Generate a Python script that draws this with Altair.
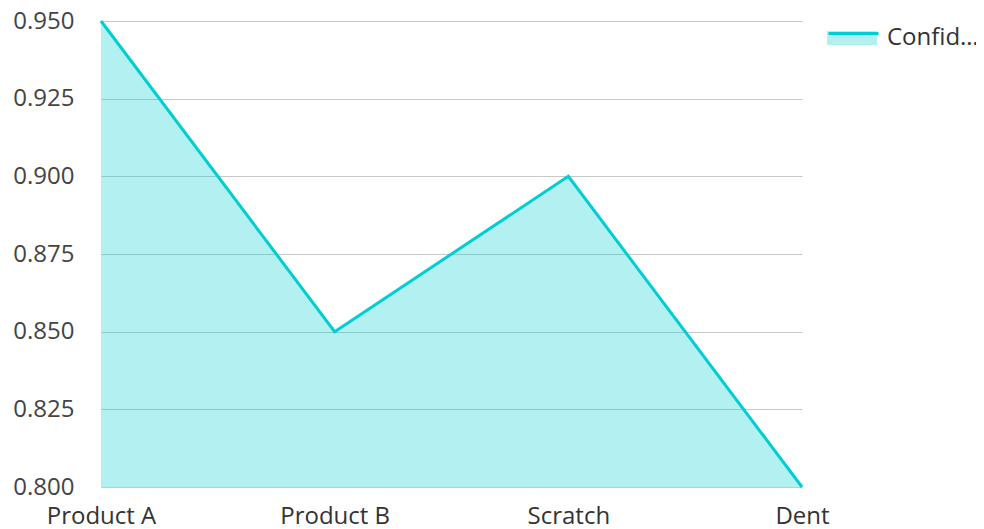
import altair as alt
import pandas as pd

categories = ["Product A", "Product B", "Scratch", "Dent"]
values = [0.95, 0.85, 0.90, 0.80]
series = ["Confidence"] * 4
y_ticks = [0.800, 0.825, 0.850, 0.875, 0.900, 0.925, 0.950]

df = pd.DataFrame({"category": categories, "value": values, "series": series})

LINE = "#00CED1"
FONT = "Open Sans"
FS = 24

x = alt.X("category:N", sort=categories,
          scale=alt.Scale(type="point", padding=0),
          axis=alt.Axis(title=None, labelAngle=0, domain=False, ticks=False, grid=False,
                        labelFontSize=FS, labelFont=FONT, labelColor="#333333",
                        labelPadding=17))
y = alt.Y("value:Q", scale=alt.Scale(domain=[0.8, 0.95], zero=False, nice=False),
          axis=alt.Axis(title=None, values=y_ticks, format=".3f", domain=False, ticks=False,
                        grid=True, gridColor="#c8c8c8", gridWidth=1,
                        labelFontSize=FS, labelFont=FONT, labelColor="#444444",
                        labelPadding=27))

area = alt.Chart(df).mark_area(color=LINE, opacity=0.3).encode(
    x=x, y=y, y2=alt.datum(0.8),
    fill=alt.Fill("series:N", scale=alt.Scale(range=[LINE]),
                  legend=alt.Legend(title=None, orient="none", legendX=726, legendY=-8,
                                    symbolType="M-1,-0.28 L1,-0.28 L1,0.28 L-1,0.28 Z",
                                    symbolSize=2500, symbolOpacity=0.3, symbolStrokeWidth=0,
                                    labelFontSize=FS, labelFont=FONT, labelColor="#333333",
                                    labelLimit=98, labelOffset=10)),
)

line = alt.Chart(df).mark_line(color=LINE, strokeWidth=3).encode(
    x=x, y=y,
    stroke=alt.Stroke("series:N", scale=alt.Scale(range=[LINE]),
                      legend=alt.Legend(title=None, orient="none", legendX=726, legendY=-14,
                                        symbolType="M-1,0 L1,0", symbolSize=2500,
                                        symbolStrokeWidth=3,
                                        labelFontSize=FS, labelFont=FONT, labelColor="rgba(0,0,0,0)",
                                        labelLimit=98, labelOffset=10)),
)

chart = alt.layer(area, line).resolve_scale(fill="independent", stroke="independent").properties(
    width=701, height=466,
    autosize=alt.AutoSizeParams(type="none"),
    padding={"left": 93, "top": 13, "right": 174, "bottom": 42},
).configure_view(stroke=None)

chart.save("out.html", embed_options={"renderer": "svg", "actions": False})
